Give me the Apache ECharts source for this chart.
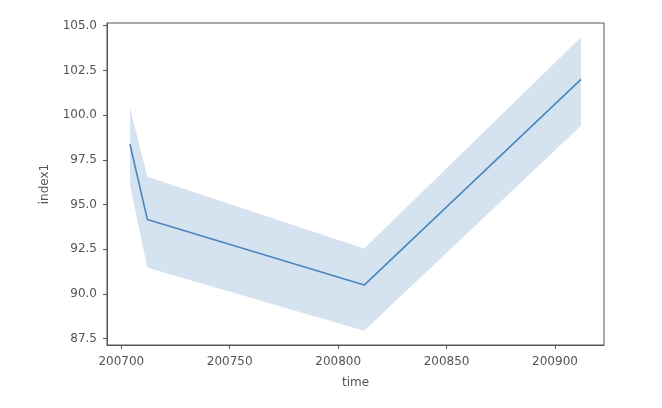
<!DOCTYPE html>
<html>
<head>
<meta charset="utf-8">
<script src="https://cdn.jsdelivr.net/npm/echarts@6/dist/echarts.min.js"></script>
<style>html,body{margin:0;padding:0;background:#fff}#c{width:662px;height:408px}</style>
</head>
<body>
<div id="c"></div>
<script>
const times = [200704, 200712, 200812, 200912];
const meanValues = [98.37, 94.17, 90.5, 102.0];
const upperValues = [100.4, 96.55, 92.55, 104.35];
const lowerValues = [96.1, 91.47, 87.95, 99.4];
const xTicks = [200700, 200750, 200800, 200850, 200900];
const yTicks = [87.5, 90.0, 92.5, 95.0, 97.5, 100.0, 102.5, 105.0];

const FONT = '"DejaVu Sans"';
const TXT = '#555';
const chart = echarts.init(document.getElementById('c'), null, {renderer: 'canvas'});
const bandPts = times.map((t, i) => [t, upperValues[i]]).concat(
  times.map((t, i) => [t, lowerValues[i]]).reverse());

chart.setOption({
  animation: false,
  grid: {left: 107, right: 58, top: 23, bottom: 63, show: true, borderColor: '#555', borderWidth: 1},
  xAxis: {
    type: 'value', min: 200693.4, max: 200922.6,
    name: 'time', nameLocation: 'middle', nameGap: 32,
    nameTextStyle: {fontFamily: FONT, fontSize: 12, color: TXT},
    axisLine: {show: true, onZero: false, lineStyle: {color: '#555'}},
    axisTick: {show: true, length: 4, customValues: xTicks, lineStyle: {color: '#555'}},
    axisLabel: {customValues: xTicks, margin: 11, fontFamily: FONT, fontSize: 12, color: TXT,
      formatter: v => String(v)},
    splitLine: {show: false}
  },
  yAxis: {
    type: 'value', min: 87.15, max: 105.15,
    name: 'index1', nameLocation: 'middle', nameGap: 56, nameRotate: 90,
    nameTextStyle: {fontFamily: FONT, fontSize: 12, color: TXT},
    axisLine: {show: true, onZero: false, lineStyle: {color: '#555'}},
    axisTick: {show: true, length: 4, customValues: yTicks, lineStyle: {color: '#555'}},
    axisLabel: {customValues: yTicks, margin: 10, fontFamily: FONT, fontSize: 12, color: TXT,
      formatter: v => v.toFixed(1)},
    splitLine: {show: false}
  },
  series: [
    {
      type: 'custom',
      data: [0],
      clip: true,
      renderItem: function (params, api) {
        return {
          type: 'polygon',
          shape: {points: bandPts.map(p => api.coord(p))},
          style: {fill: '#d5e2f0'}
        };
      },
      z: 1
    },
    {
      type: 'line',
      data: times.map((t, i) => [t, meanValues[i]]),
      showSymbol: false,
      lineStyle: {color: '#4a85bd', width: 1.6},
      z: 2
    }
  ]
});
</script>
</body>
</html>
